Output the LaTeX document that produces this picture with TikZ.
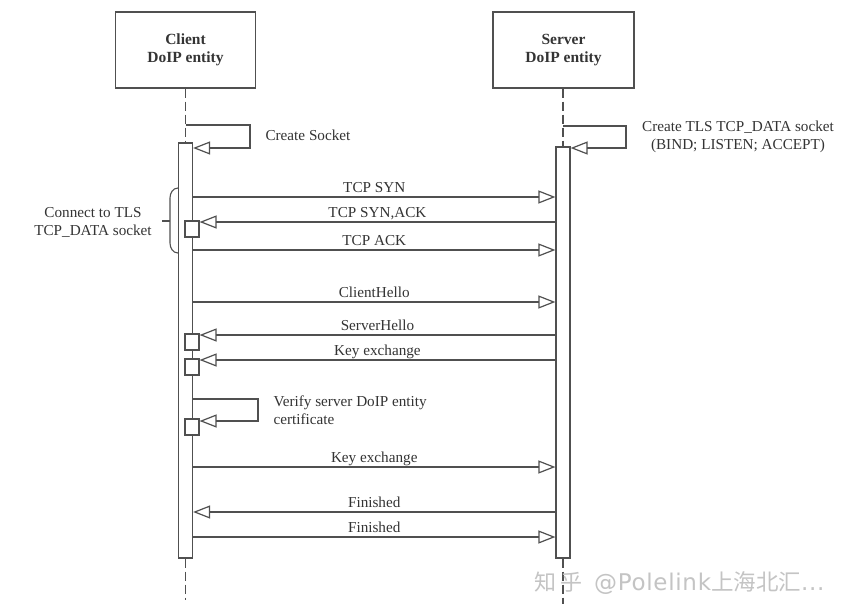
\documentclass[tikz,border=0pt]{standalone}
\usepackage{fontspec}
\setmainfont{Liberation Serif}
\newfontfamily\cjkfont{Noto Sans CJK SC}
\newfontfamily\wmlat{DejaVu Sans}[LetterSpace=3]
\usetikzlibrary{arrows.meta}
\definecolor{ln}{HTML}{505050}
\definecolor{tx}{HTML}{343434}
\definecolor{wm}{HTML}{C4C4C4}
\begin{document}
\begin{tikzpicture}[x=1pt,y=-1pt,
  every node/.style={text=tx, font=\fontsize{15.2}{18}\selectfont},
  entity/.style={draw=ln, line width=1.2pt, minimum height=76pt, align=center, inner sep=0pt,
    font=\fontsize{15.5}{18.5}\selectfont\bfseries},
  actbar/.style={draw=ln, fill=white, line width=1.2pt, minimum width=14pt, inner sep=0pt},
  sbox/.style={draw=ln, fill=white, line width=1.1pt, minimum width=14pt, minimum height=16pt, inner sep=0pt},
  life/.style={draw=ln, line width=1.1pt, dash pattern=on 9pt off 4pt},
  msg/.style={draw=ln, line width=1.2pt, -{Triangle[open, length=17pt, width=13pt, line width=1.2pt]}},
  lbl/.style={midway, anchor=base, yshift=5pt, inner sep=0pt},
]
\useasboundingbox[fill=white] (0,0) rectangle (858,615);

% entities
\node[entity, minimum width=140pt] (client) at (185.5,50) {Client\\DoIP entity};
\node[entity, minimum width=141pt] (server) at (563.5,50) {Server\\DoIP entity};

% activation bars
\node[actbar, minimum height=415pt] (cbar) at (185.5,350.5) {};
\node[actbar, minimum height=411pt] (sbar) at (563,352.5) {};

% lifelines
\coordinate (cend) at (185.5,600);
\coordinate (send) at (563,604);
\draw[life] (client.south) -- (cbar.north);
\draw[life] (cbar.south) -- (cend);
\draw[life] (server.south -| sbar.north) -- (sbar.north);
\draw[life] (sbar.south) -- (send);

% self message: create socket
\coordinate (cs0) at (185.5,125);
\coordinate (cs1) at (250,125);
\coordinate (cs2) at (250,148);
\draw[msg] (cs0) -- (cs1) -- (cs2) -- (cbar.east |- cs2);
\node[anchor=base west] (tcs) at (262,140) {Create Socket};

\coordinate (ss0) at (563,126);
\coordinate (ss1) at (626,126);
\coordinate (ss2) at (626,148);
\draw[msg] (ss0) -- (ss1) -- (ss2) -- (sbar.east |- ss2);
\node[align=center] (tss) at (738,137) {Create TLS TCP\_DATA socket\\(BIND; LISTEN; ACCEPT)};

% small boxes on client bar
\node[sbox] (b1) at (192,229) {};
\node[sbox] (b2) at (192,342) {};
\node[sbox] (b3) at (192,367) {};
\node[sbox] (b4) at (192,427) {};

% messages
\draw[msg] (cbar.east |- 0,197) -- node[lbl]{TCP SYN} (sbar.west |- 0,197);
\draw[msg] (sbar.west |- 0,222) -- node[lbl]{TCP SYN,ACK} (b1.east |- 0,222);
\draw[msg] (cbar.east |- 0,250) -- node[lbl]{TCP ACK} (sbar.west |- 0,250);
\draw[msg] (cbar.east |- 0,302) -- node[lbl]{ClientHello} (sbar.west |- 0,302);
\draw[msg] (sbar.west |- 0,335) -- node[lbl]{ServerHello} (b2.east |- 0,335);
\draw[msg] (sbar.west |- 0,360) -- node[lbl]{Key exchange} (b3.east |- 0,360);

% verify self message
\coordinate (v0) at (192,399);
\coordinate (v1) at (258,399);
\coordinate (v2) at (258,421);
\draw[msg] (v0) -- (v1) -- (v2) -- (b4.east |- v2);
\node[anchor=west, align=left] (tv) at (270,410) {Verify server DoIP entity\\certificate};

\draw[msg] (cbar.east |- 0,467) -- node[lbl]{Key exchange} (sbar.west |- 0,467);
\draw[msg] (sbar.west |- 0,512) -- node[lbl]{Finished} (cbar.east |- 0,512);
\draw[msg] (cbar.east |- 0,537) -- node[lbl]{Finished} (sbar.west |- 0,537);

% bracket
\draw[draw=ln, line width=1.1pt] (178,188) to[out=180,in=90] (170,198) -- (170,243) to[out=-90,in=180] (178,253);
\coordinate (bt) at (162,221);
\draw[draw=ln, line width=1.1pt] (bt) -- (170,221);
\node[align=center] (tconn) at (93,222) {Connect to TLS\\TCP\_DATA socket};

% watermark
\node[anchor=base west, text=wm, inner sep=0pt] (wmark) at (534,590)
  {{\cjkfont\fontsize{22}{22}\selectfont 知\hspace{4pt}乎}\hspace{12pt}{\wmlat\fontsize{23}{23}\selectfont @Polelink}{\cjkfont\fontsize{22.5}{22.5}\selectfont 上海北汇}{\wmlat\fontsize{23}{23}\selectfont ...}};
\end{tikzpicture}
\end{document}
